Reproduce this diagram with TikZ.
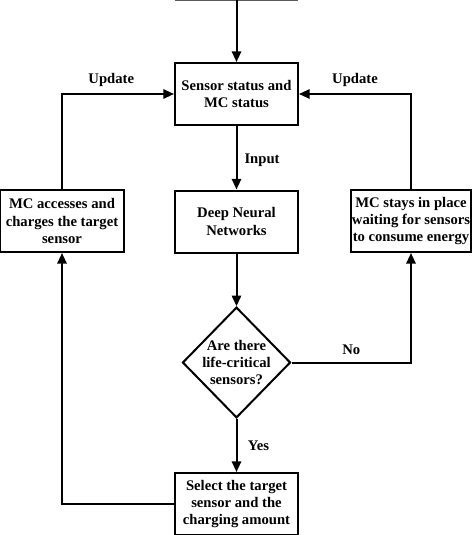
\documentclass[tikz,border=0pt]{standalone}
\usepackage{fontspec}
\setmainfont{Liberation Serif}
\usetikzlibrary{arrows.meta,shapes.geometric}

\tikzset{
  flowbox/.style={draw, line width=1.5pt, fill=white, inner sep=0.75pt, align=center,
    minimum height=46.5pt, font=\fontsize{11}{13}\selectfont\bfseries},
  flowdiamond/.style={draw, diamond, line width=1.5pt, fill=white, inner sep=-6pt, align=center,
    minimum width=81pt, minimum height=83pt, font=\fontsize{11}{13}\selectfont\bfseries},
  flowlabel/.style={inner sep=0.75pt, font=\fontsize{11}{13}\selectfont\bfseries},
  flowarrow/.style={line width=1.5pt, -{Triangle[length=8pt,width=7pt]}}
}

\begin{document}
\begin{tikzpicture}[x=0.75pt,y=0.75pt,yscale=-1,xscale=1]
		\useasboundingbox (0,0) rectangle (474,535);
		\clip (0,0) rectangle (474,535);
		
		% Edge of the block above
		\draw [color={rgb, 255:red, 90; green, 90; blue, 90 }][line width=1.8pt] (175,0) -- (298,0) ;
		\coordinate (top) at (236.5,0);
		
		%Shape: Rectangle [status]
		\node [flowbox, minimum width=92.25pt] (status) at (236.5,94) {Sensor status and\\MC status};
		%Shape: Rectangle [dnn]
		\node [flowbox, minimum width=92.25pt] (dnn) at (236.5,221.5) {Deep Neural\\Networks};
		%Shape: Diamond [check]
		\node [flowdiamond] (check) at (236.5,362.5) {Are there\\life-critical\\sensors?};
		%Shape: Rectangle [select]
		\node [flowbox, minimum width=92.25pt] (select) at (236.5,504) {Select the target\\sensor and the\\charging amount};
		%Shape: Rectangle [charge]
		\node [flowbox, minimum width=93pt] (charge) at (62,221) {MC accesses and\\charges the target\\sensor};
		%Shape: Rectangle [wait]
		\node [flowbox, minimum width=90pt] (wait) at (411,221) {MC stays in place\\waiting for sensors\\to consume energy};
		
		% Connection
		\draw [flowarrow] (top) -- (status.north) ;
		% Connection
		\draw [flowarrow] (status.south) -- node [flowlabel, anchor=west, xshift=4.5pt, yshift=-2pt] (input) {Input} (dnn.north) ;
		% Connection
		\draw [flowarrow] (dnn.south) -- (check.north) ;
		% Connection
		\draw [flowarrow] (check.south) -- node [flowlabel, anchor=west, xshift=7pt] (yes) {Yes} (select.north) ;
		% Connection
		\draw [flowarrow] (select.west) -| (charge.south) ;
		% Connection
		\draw [flowarrow] (charge.north) |- node [flowlabel, pos=0.72, above=4pt] (upleft) {Update} (status.west) ;
		% Connection
		\draw [flowarrow] (check.east) -| node [flowlabel, pos=0.25, above=4.5pt] (no) {No} (wait.south) ;
		% Connection
		\draw [flowarrow] (wait.north) |- node [flowlabel, pos=0.75, above=4pt] (upright) {Update} (status.east) ;
	\end{tikzpicture}
\end{document}
